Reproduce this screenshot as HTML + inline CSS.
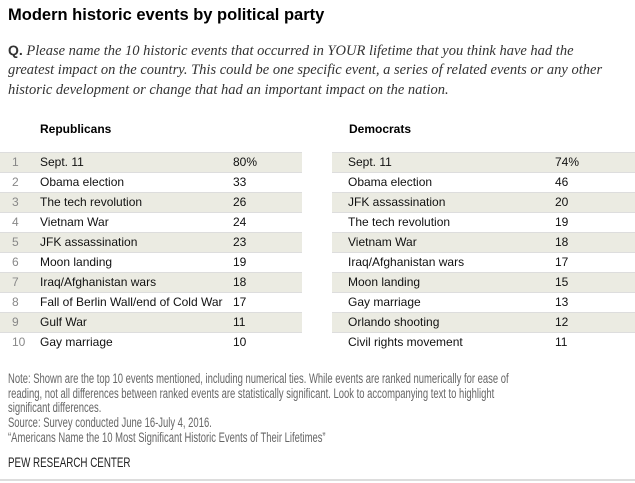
<!DOCTYPE html>
<html><head><meta charset="utf-8"><style>
body{margin:0;width:635px;height:483px;background:#fff;position:relative;overflow:hidden;font-family:"Liberation Sans",sans-serif;color:#222}
.a{position:absolute;white-space:nowrap}
#title{left:8px;top:6px;font-size:16.5px;font-weight:bold;color:#000}
.q{left:8px;font-family:"Liberation Serif",serif;font-style:italic;font-size:14.5px;color:#333}
.hdr{font-size:12px;font-weight:bold;top:122px;color:#000}
.row{position:absolute;height:19px;font-size:12px;line-height:19px;color:#111}
.note{left:8px;font-size:13.5px;color:#666;transform:scaleX(0.70);transform-origin:0 0}
</style></head><body>
<div class="a" id="title">Modern historic events by political party</div>
<div class="a q" style="top:42px"><b style="font-style:normal;font-family:'Liberation Sans',sans-serif;font-size:14px">Q.</b> Please name the 10 historic events that occurred in YOUR lifetime that you think have had the</div>
<div class="a q" style="top:62px">greatest impact on the country. This could be one specific event, a series of related events or any other</div>
<div class="a q" style="top:82px">historic development or change that had an important impact on the nation.</div>
<div class="a hdr" style="left:40px">Republicans</div>
<div class="a hdr" style="left:349px">Democrats</div>
<div id="tables"></div>
<div class="a note" style="top:371px">Note: Shown are the top 10 events mentioned, including numerical ties. While events are ranked numerically for ease of</div>
<div class="a note" style="top:386px">reading, not all differences between ranked events are statistically significant. Look to accompanying text to highlight</div>
<div class="a note" style="top:400px">significant differences.</div>
<div class="a note" style="top:415px">Source: Survey conducted June 16-July 4, 2016.</div>
<div class="a note" style="top:430px">“Americans Name the 10 Most Significant Historic Events of Their Lifetimes”</div>
<div class="a note" style="top:454px;color:#222;font-size:14px">PEW RESEARCH CENTER</div>
<div class="a" style="left:0;top:479px;width:635px;height:2px;background:#ddd"></div>
<script>
const repEvents=["Sept. 11","Obama election","The tech revolution","Vietnam War","JFK assassination","Moon landing","Iraq/Afghanistan wars","Fall of Berlin Wall/end of Cold War","Gulf War","Gay marriage"];
const repValues=[80,33,26,24,23,19,18,17,11,10];
const demEvents=["Sept. 11","Obama election","JFK assassination","The tech revolution","Vietnam War","Iraq/Afghanistan wars","Moon landing","Gay marriage","Orlando shooting","Civil rights movement"];
const demValues=[74,46,20,19,18,17,15,13,12,11];
const T=document.getElementById('tables');
function table(events,vals,x0,w,tx,nx,rank,name){
  events.forEach((e,i)=>{
    const r=document.createElement('div');
    r.className='row';
    
    
    r.style.left=x0+'px';r.style.width=w+'px';r.style.top=(152+i*19.95)+'px';
    r.style.background=i%2==0?'#ebebe2':'#fff';
    r.style.borderTop='1px solid #ddd';
    let h='';
    if(rank)h+='<span style="position:absolute;left:12px;color:#888">'+(i+1)+'</span>';
    h+='<span style="position:absolute;left:'+tx+'px">'+e+'</span>';
    h+='<span style="position:absolute;left:'+nx+'px">'+vals[i]+(i==0?'%':'')+'</span>';
    r.innerHTML=h;T.appendChild(r);
  });
}
table(repEvents,repValues,0,302,40,233,true,'republicans');
table(demEvents,demValues,332,303,16,223,false,'democrats');
</script>
</body></html>
